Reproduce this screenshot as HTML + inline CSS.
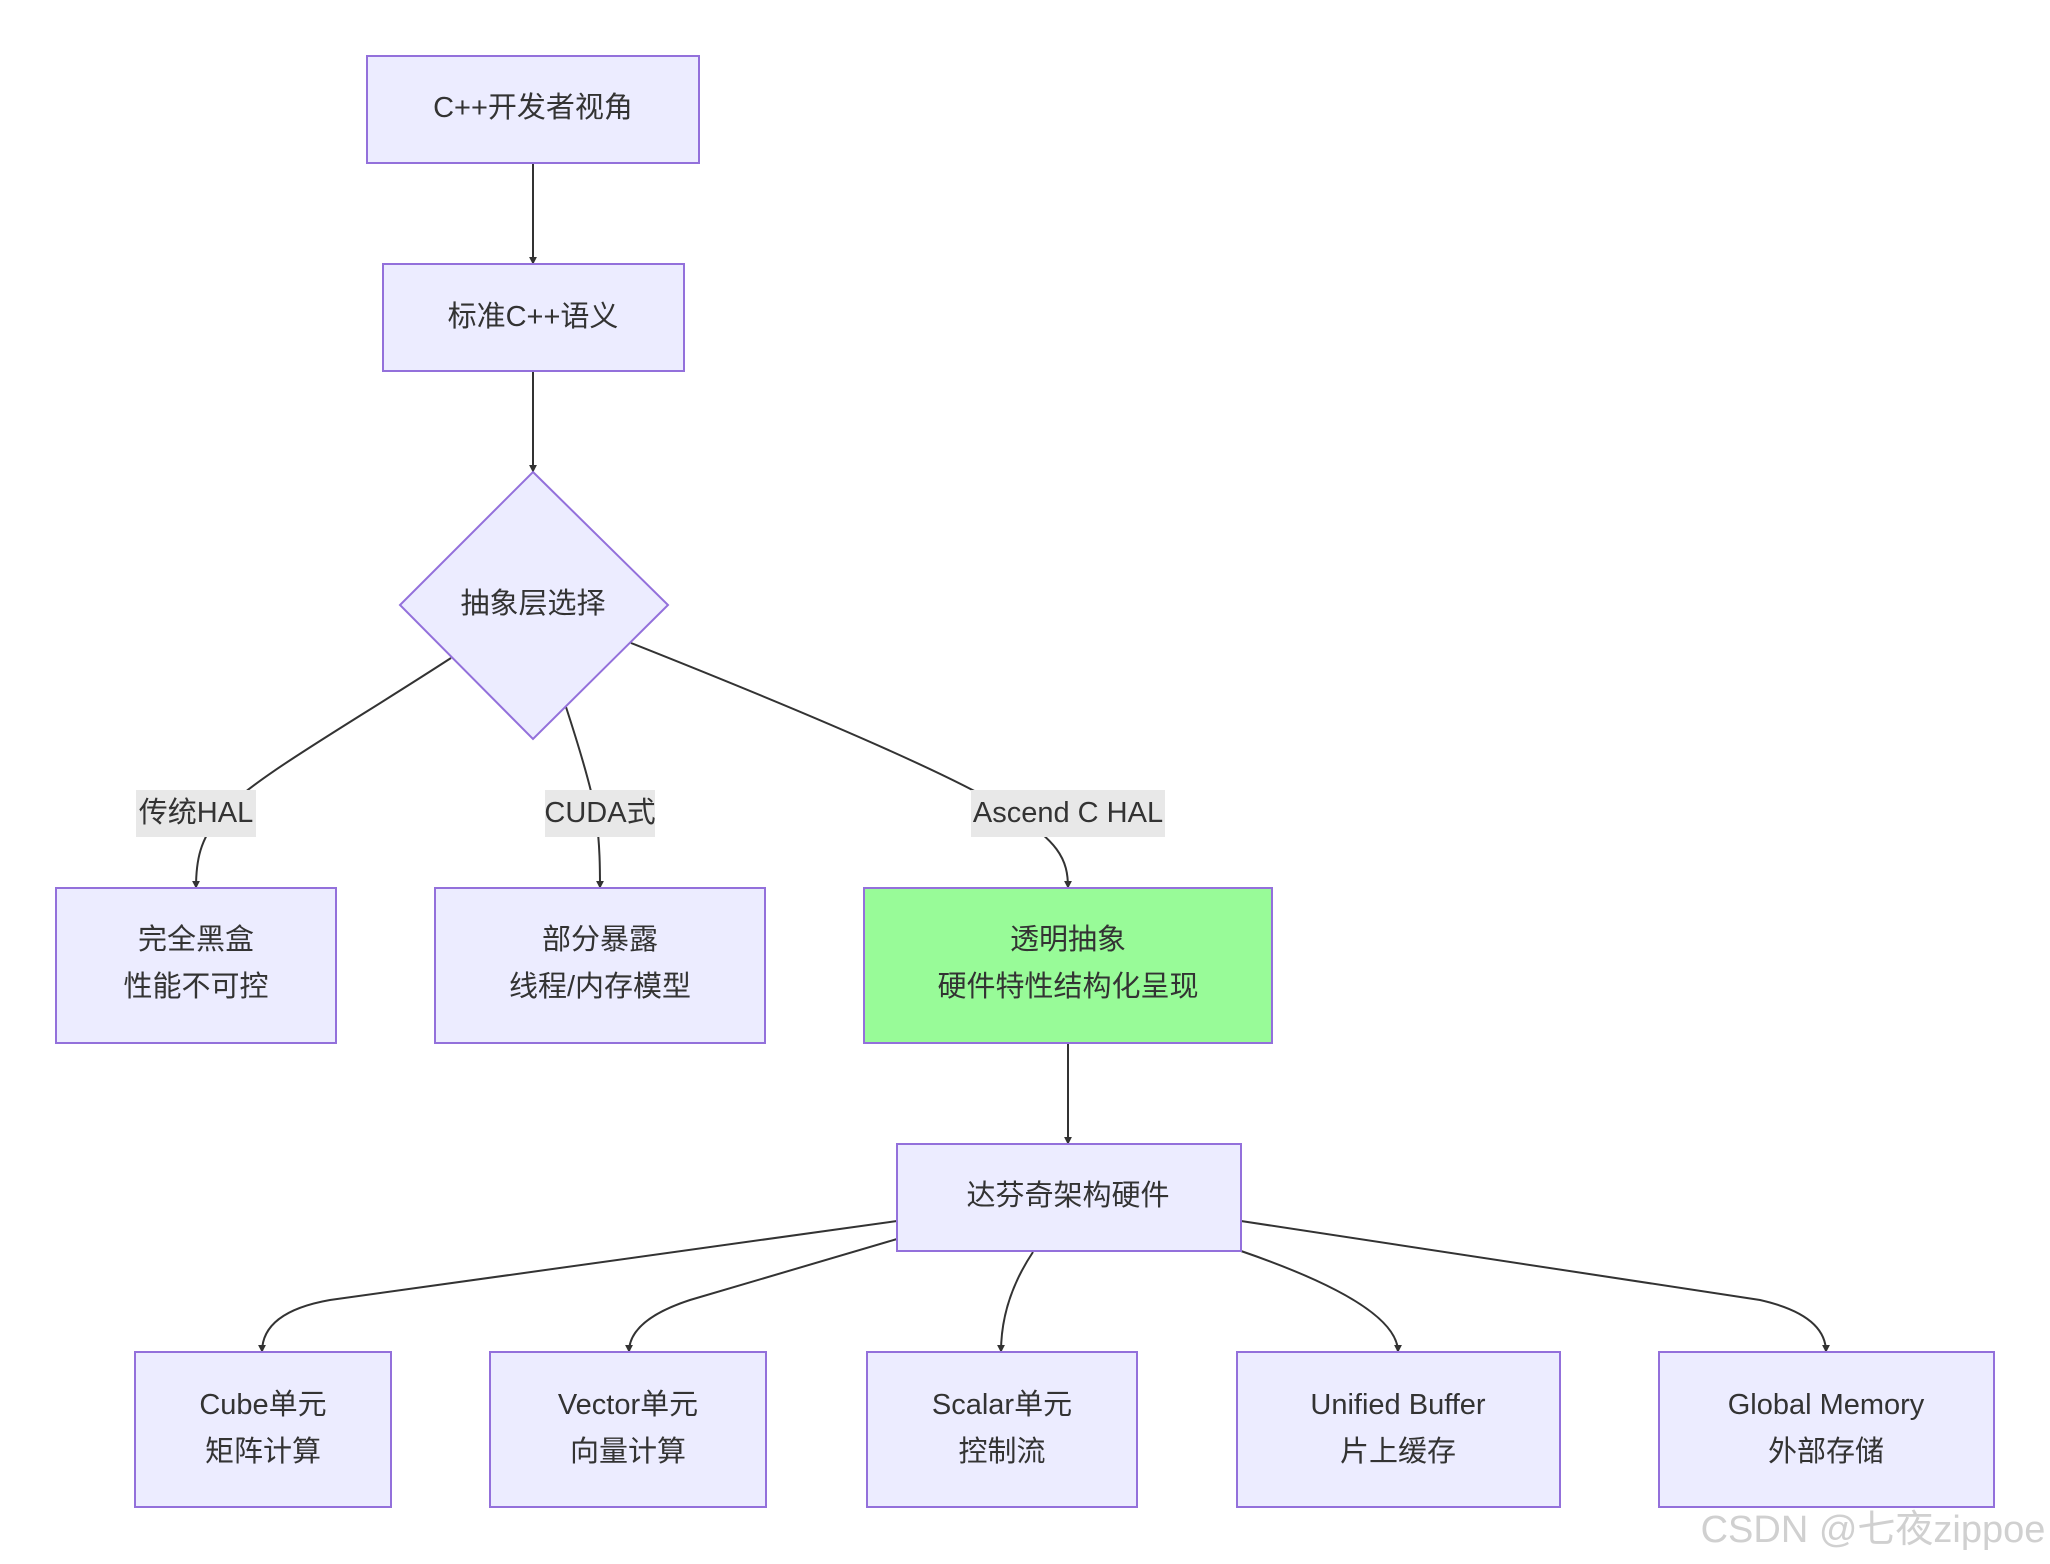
<!DOCTYPE html>
<html><head><meta charset="utf-8"><style>
body{margin:0;background:#fff;}
svg{display:block;}
text{font-family:"Liberation Sans","Noto Sans CJK SC",sans-serif;font-size:29px;fill:#333;text-anchor:middle;dominant-baseline:central;}
.n{fill:#ececff;stroke:#9370db;stroke-width:2;}
.e{fill:none;stroke:#333;stroke-width:2;}
</style></head><body>
<svg width="2050" height="1564" viewBox="0 0 2050 1564" xmlns="http://www.w3.org/2000/svg">
<defs><marker id="a" viewBox="0 0 10 10" refX="9" refY="5" markerWidth="8" markerHeight="8" orient="auto-start-reverse" markerUnits="userSpaceOnUse"><path d="M0,0L10,5L0,10z" fill="#333"/></marker></defs>
<path class="e" d="M533,163L533,264" marker-end="url(#a)"/>
<path class="e" d="M533,371L533,472" marker-end="url(#a)"/>
<path class="e" d="M451,658C340,730 250,780 220,815C200,840 196,860 196,888" marker-end="url(#a)"/>
<path class="e" d="M566,707C580,750 592,790 596,815C600,845 600,870 600,888" marker-end="url(#a)"/>
<path class="e" d="M631,643C800,710 940,770 1000,805C1060,840 1068,860 1068,888" marker-end="url(#a)"/>
<path class="e" d="M1068,1043L1068,1144" marker-end="url(#a)"/>
<path class="e" d="M897,1221L330,1300Q262,1312 262,1352" marker-end="url(#a)"/>
<path class="e" d="M897,1239L690,1300Q629,1320 629,1352" marker-end="url(#a)"/>
<path class="e" d="M1033,1252Q1001,1300 1001,1352" marker-end="url(#a)"/>
<path class="e" d="M1241,1251Q1398,1305 1398,1352" marker-end="url(#a)"/>
<path class="e" d="M1241,1221L1760,1300Q1826,1315 1826,1352" marker-end="url(#a)"/>
<rect x="136" y="790" width="120" height="47" fill="#e8e8e8"/><text x="196" y="813">传统HAL</text>
<rect x="545" y="790" width="110" height="47" fill="#e8e8e8"/><text x="600" y="813">CUDA式</text>
<rect x="971" y="790" width="194" height="47" fill="#e8e8e8"/><text x="1068" y="813">Ascend C HAL</text>
<rect class="n" x="367" y="56" width="332" height="107"/><text x="533" y="108">C++开发者视角</text>
<rect class="n" x="383" y="264" width="301" height="107"/><text x="533" y="317">标准C++语义</text>
<polygon class="n" points="533,472 668,605 533,739 400,605"/><text x="533" y="604">抽象层选择</text>
<rect class="n" x="56" y="888" width="280" height="155"/><text x="196" y="940">完全黑盒</text><text x="196" y="987">性能不可控</text>
<rect class="n" x="435" y="888" width="330" height="155"/><text x="600" y="940">部分暴露</text><text x="600" y="987">线程/内存模型</text>
<rect x="864" y="888" width="408" height="155" fill="#98fb98" stroke="#9370db" stroke-width="2"/><text x="1068" y="940">透明抽象</text><text x="1068" y="987">硬件特性结构化呈现</text>
<rect class="n" x="897" y="1144" width="344" height="107"/><text x="1068" y="1196">达芬奇架构硬件</text>
<rect class="n" x="135" y="1352" width="256" height="155"/><text x="263" y="1405">Cube单元</text><text x="263" y="1452">矩阵计算</text>
<rect class="n" x="490" y="1352" width="276" height="155"/><text x="628" y="1405">Vector单元</text><text x="628" y="1452">向量计算</text>
<rect class="n" x="867" y="1352" width="270" height="155"/><text x="1002" y="1405">Scalar单元</text><text x="1002" y="1452">控制流</text>
<rect class="n" x="1237" y="1352" width="323" height="155"/><text x="1398" y="1405">Unified Buffer</text><text x="1398" y="1452">片上缓存</text>
<rect class="n" x="1659" y="1352" width="335" height="155"/><text x="1826" y="1405">Global Memory</text><text x="1826" y="1452">外部存储</text>
<text x="1873" y="1530" style="font-size:38px;fill:#d0d0d0">CSDN @七夜zippoe</text>
</svg>
</body></html>
